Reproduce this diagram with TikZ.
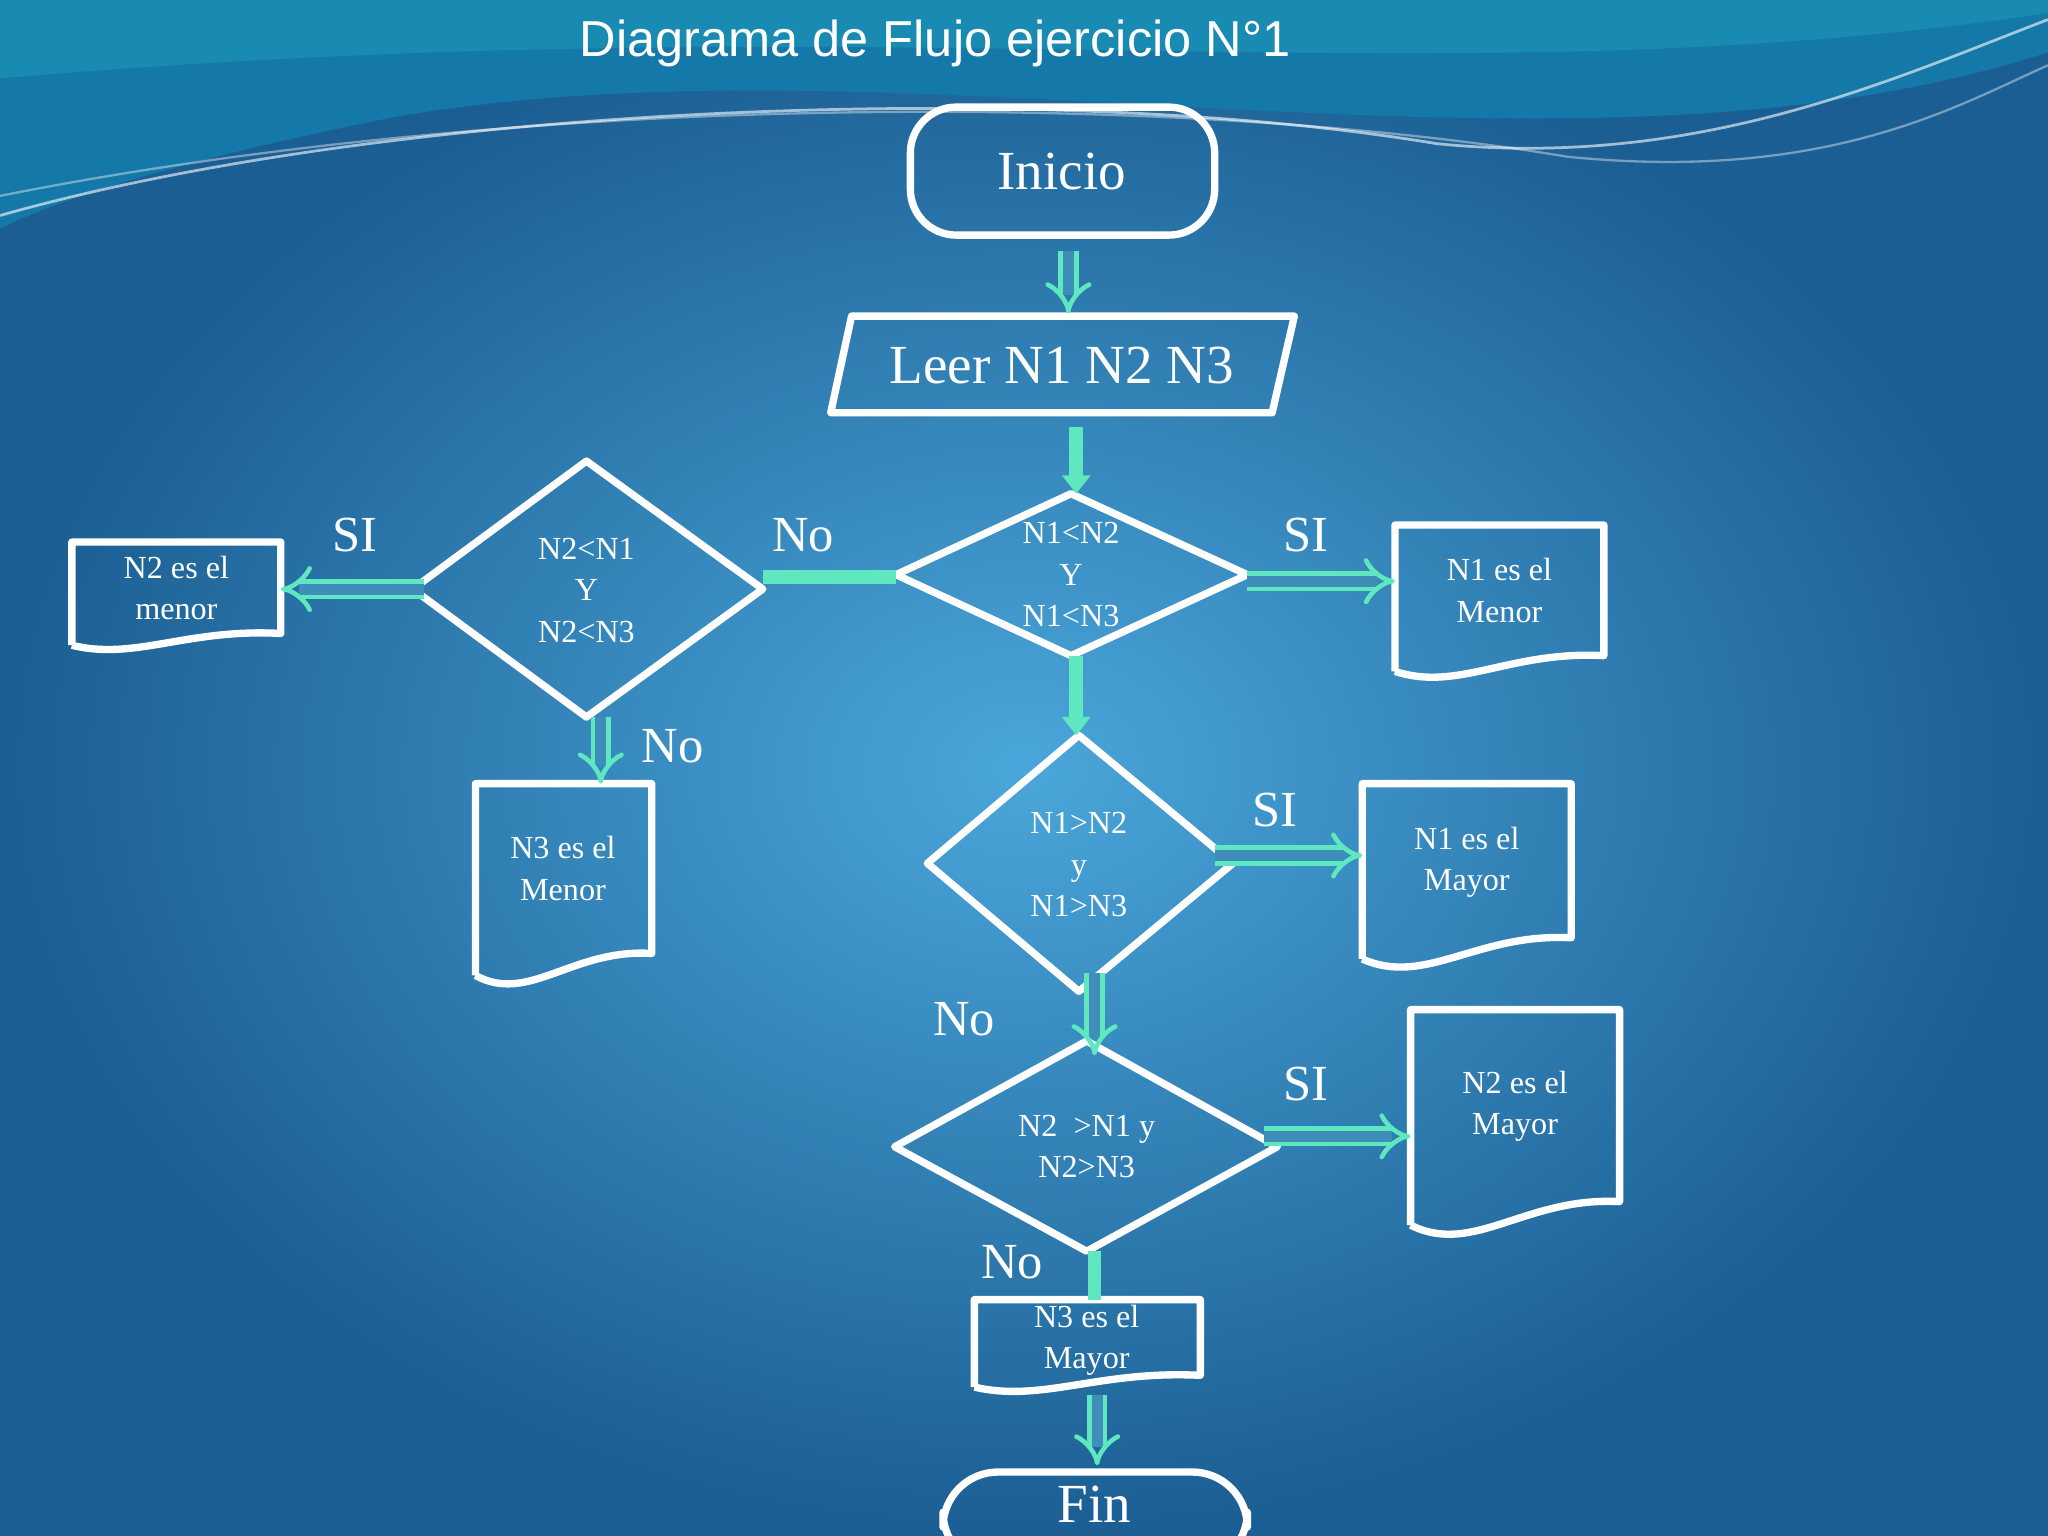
\documentclass[tikz,border=0pt]{standalone}
\usepackage{fontspec}
\setmainfont{Liberation Serif}
\newfontfamily\titlefont{Liberation Sans}
\usetikzlibrary{arrows.meta}
\definecolor{aq}{HTML}{5FE8C0}
\definecolor{bgin}{HTML}{4AA6DA}
\definecolor{bgout}{HTML}{1B5E93}
\definecolor{wav1}{HTML}{1B8FB5}
\definecolor{wav2}{HTML}{1478A8}
\begin{document}
\begin{tikzpicture}[x=0.01cm,y=-0.01cm,
  shp/.style={draw=white,line width=1.6pt,line join=round},
  txt/.style={text=white,align=center,font=\fontsize{7}{8}\selectfont},
  lbl/.style={text=white,font=\fontsize{11}{13}\selectfont},
  dbl/.style={draw=aq,line width=1pt,double=bgin!85!black,double distance=2.4pt,-{Implies}},
  sgl/.style={draw=aq,line width=3pt,-{Triangle[length=4pt,width=6pt]}},
  bar/.style={draw=aq,line width=3pt}]
\useasboundingbox (0,0) rectangle (1568,1176);
\shade[inner color=bgin,outer color=bgout] (0,0) rectangle (1568,1176);
% top wave
\fill[wav2] (0,0) -- (1568,0) -- (1568,40) .. controls (1200,160) and (700,20) .. (300,90) .. controls (150,120) and (50,150) .. (0,175) -- cycle;
\fill[wav1,opacity=0.8] (0,0) -- (1568,0) -- (1568,10) .. controls (1100,80) and (700,0) .. (0,60) -- cycle;
\draw[white,opacity=0.6,line width=0.6pt] (0,165) .. controls (300,80) and (800,60) .. (1100,110) .. controls (1300,130) and (1450,60) .. (1568,15);
\draw[white,opacity=0.4,line width=0.5pt] (0,150) .. controls (400,70) and (900,70) .. (1200,120) .. controls (1400,140) and (1500,80) .. (1568,50);
\node[text=white,font=\titlefont\fontsize{11}{13}\selectfont] (title) at (716,33) {Diagrama de Flujo ejercicio N°1};
% Inicio
\draw[shp,rounded corners=10pt] (697,82) rectangle (930,180);
\node[text=white,font=\fontsize{12}{14}\selectfont] (ini) at (813,131) {Inicio};
\coordinate (iniB) at (818,192);
% Leer
\draw[shp] (652,242) -- (991,242) -- (974,316) -- (636,316) -- cycle;
\node[text=white,font=\fontsize{12}{14}\selectfont] (leer) at (813,280) {Leer N1 N2 N3};
\coordinate (leerT) at (818,240); \coordinate (leerB) at (824,327);
% D1
\draw[shp] (820,378) -- (955,440) -- (820,502) -- (686,440) -- cycle;
\node[txt] (d1) at (820,440) {N1<N2\\[1pt]Y\\[1pt]N1<N3};
\coordinate (d1T) at (824,378); \coordinate (d1L) at (686,442); \coordinate (d1R) at (955,445); \coordinate (d1B) at (824,502);
% D2
\draw[shp] (449,353) -- (584,451) -- (449,549) -- (316,451) -- cycle;
\node[txt] (d2) at (449,452) {N2<N1\\[1pt]Y\\[1pt]N2<N3};
\coordinate (d2R) at (584,442); \coordinate (d2L) at (325,451); \coordinate (d2B) at (460,549);
% D3
\draw[shp] (826,563) -- (944,661) -- (826,759) -- (710,661) -- cycle;
\node[txt] (d3) at (826,662) {N1>N2\\[1pt]y\\[1pt]N1>N3};
\coordinate (d3T) at (824,563); \coordinate (d3R) at (930,655); \coordinate (d3B) at (838,745);
% D4
\draw[shp] (832,797) -- (978,878) -- (832,958) -- (685,878) -- cycle;
\node[txt] (d4) at (832,878) {N2\enspace >N1 y\\[1pt]N2>N3};
\coordinate (d4T) at (838,808); \coordinate (d4R) at (968,870); \coordinate (d4B) at (838,958);
% documents
\newcommand\docshape[5]{% x1 y1 x2 y2 dip
  \draw[shp] (#1,#4+#5*0.6) -- (#1,#2) -- (#3,#2) -- (#3,#4)
    .. controls ({#1+0.55*(#3-#1)},#4-4) and ({#1+0.3*(#3-#1)},#4+#5*1.4) .. (#1,#4+#5*0.6);}
\docshape{55}{415}{215}{485}{15}
\node[txt] (m2) at (135,450) {N2 es el\\[1pt]menor};
\coordinate (m2R) at (215,451);
\docshape{1068}{402}{1228}{502}{20}
\node[txt] (m1) at (1148,452) {N1 es el\\[1pt]Menor};
\coordinate (m1L) at (1068,445);
\docshape{364}{600}{499}{730}{28}
\node[txt] (m3) at (431,665) {N3 es el\\[1pt]Menor};
\coordinate (m3T) at (460,600);
\docshape{1043}{600}{1203}{718}{27}
\node[txt] (M1) at (1123,660) {N1 es el\\[1pt]Mayor};
\coordinate (M1L) at (1043,655);
\docshape{1080}{773}{1240}{920}{30}
\node[txt] (M2) at (1160,847) {N2 es el\\[1pt]Mayor};
\coordinate (M2L) at (1080,870);
\docshape{746}{995}{919}{1053}{15}
\node[txt] (M3) at (832,1026) {N3 es el\\[1pt]Mayor};
\coordinate (M3T) at (838,995); \coordinate (M3B) at (840,1068);
% Fin
\draw[shp,rounded corners=12pt] (722,1127) -- (955,1127) -- (955,1200) -- (722,1200) -- cycle;
\node[text=white,font=\fontsize{12}{14}\selectfont] (fin) at (838,1152) {Fin};
\coordinate (finT) at (840,1122);
% connectors
\draw[dbl] (iniB) -- (leerT);
\draw[sgl] (leerB) -- (d1T);
\draw[bar] (d1L) -- (d2R);
\draw[dbl] (d2L) -- (m2R);
\draw[dbl] (d2B) -- (m3T);
\draw[dbl] (d1R) -- (m1L);
\draw[sgl] (d1B) -- (d3T);
\draw[dbl] (d3R) -- (M1L);
\draw[dbl] (d3B) -- (d4T);
\draw[dbl] (d4R) -- (M2L);
\draw[bar] (d4B) -- (M3T);
\draw[dbl] (M3B) -- (finT);
% labels
\node[lbl] (l1) at (272,410) {SI};
\node[lbl] (l2) at (615,410) {No};
\node[lbl] (l3) at (1000,410) {SI};
\node[lbl] (l4) at (515,571) {No};
\node[lbl] (l5) at (976,620) {SI};
\node[lbl] (l6) at (738,780) {No};
\node[lbl] (l7) at (1000,830) {SI};
\node[lbl] (l8) at (775,966) {No};
\end{tikzpicture}
\end{document}
